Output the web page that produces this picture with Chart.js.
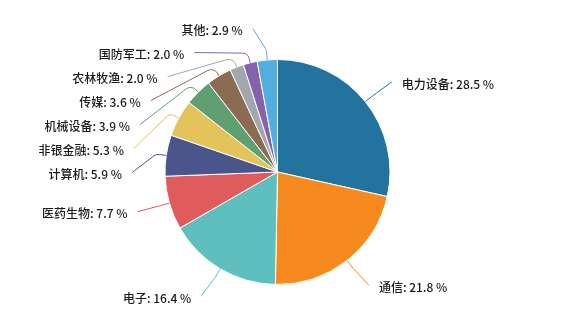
<!DOCTYPE html>
<html>
<head>
<meta charset="utf-8">
<script src="https://cdn.jsdelivr.net/npm/chart.js@4/dist/chart.umd.min.js"></script>
<style>
    body { margin: 0; background: #fff; }
</style>
</head>
<body>
<canvas id="myChart" width="581" height="310"></canvas>
<script>
const labels = ['电力设备', '通信', '电子', '医药生物', '计算机', '非银金融', '机械设备', '传媒', '农林牧渔', '国防军工', '其他'];
const shares = [28.5, 21.8, 16.4, 7.7, 5.9, 5.3, 3.9, 3.6, 2.0, 2.0, 2.9];
const colors = ['#22749f', '#f68a1e', '#5fbfbf', '#e05c5c', '#4a558c', '#e3c35a', '#5fa072', '#8b6c52', '#a0a7ae', '#8562ae', '#53aedf'];

// draws the outside labels with leader lines, positioned from the arcs
const outerLabels = {
    id: 'outerLabels',
    afterDraw(chart) {
        const ctx = chart.ctx;
        const arcs = chart.getDatasetMeta(0).data;
        const gap = 24;
        let items = arcs.map(function (arc, i) {
            const a = (arc.startAngle + arc.endAngle) / 2;
            return {
                i: i, a: a, cx: arc.x, cy: arc.y, r: arc.outerRadius,
                right: Math.cos(a) >= 0,
                y: arc.y + (arc.outerRadius + 31.5) * Math.sin(a)
            };
        });
        // push overlapping labels down, one side at a time
        [true, false].forEach(function (side) {
            const list = items.filter(it => it.right === side).sort((p, q) => p.y - q.y);
            for (let k = 1; k < list.length; k++) {
                if (list[k].y < list[k - 1].y + gap) list[k].y = list[k - 1].y + gap;
            }
        });
        ctx.save();
        ctx.font = '500 12px "Noto Sans CJK SC", "Noto Sans", sans-serif';
        ctx.textBaseline = 'middle';
        items.forEach(function (it) {
            const dirX = Math.cos(it.a), dirY = Math.sin(it.a);
            const x0 = it.cx + it.r * dirX, y0 = it.cy + it.r * dirY;
            const x1 = it.cx + (it.r + 10) * dirX, y1 = it.cy + (it.r + 10) * dirY;
            const R = it.r + 33;
            const dy = it.y - it.cy;
            const dx = Math.sqrt(Math.max(R * R - dy * dy, 0));
            const x2 = it.right ? it.cx + dx : it.cx - dx;
            const y2 = it.y;
            ctx.strokeStyle = colors[it.i];
            ctx.lineWidth = 1;
            ctx.beginPath();
            ctx.moveTo(x0, y0);
            ctx.arcTo(x1, y1, x2, y2, 7);
            ctx.lineTo(x2, y2);
            ctx.stroke();
            ctx.fillStyle = '#1a1a1a';
            ctx.textAlign = it.right ? 'left' : 'right';
            const text = labels[it.i] + ': ' + shares[it.i].toFixed(1) + ' %';
            ctx.fillText(text, it.right ? x2 + 10 : x2 - 10, y2 + 2);
        });
        ctx.restore();
    }
};

const data = {
    labels: labels,
    datasets: [{
        data: shares,
        backgroundColor: colors,
        borderColor: '#ffffff',
        borderWidth: 1
    }]
};

const config = {
    type: 'pie',
    data: data,
    options: {
        responsive: false,
        animation: false,
        layout: {
            padding: { top: 59, bottom: 25, left: 0, right: 26 }
        },
        plugins: {
            legend: { display: false },
            tooltip: { enabled: false }
        }
    },
    plugins: [outerLabels]
};

const myChart = new Chart(
    document.getElementById('myChart'),
    config
);
</script>
</body>
</html>
